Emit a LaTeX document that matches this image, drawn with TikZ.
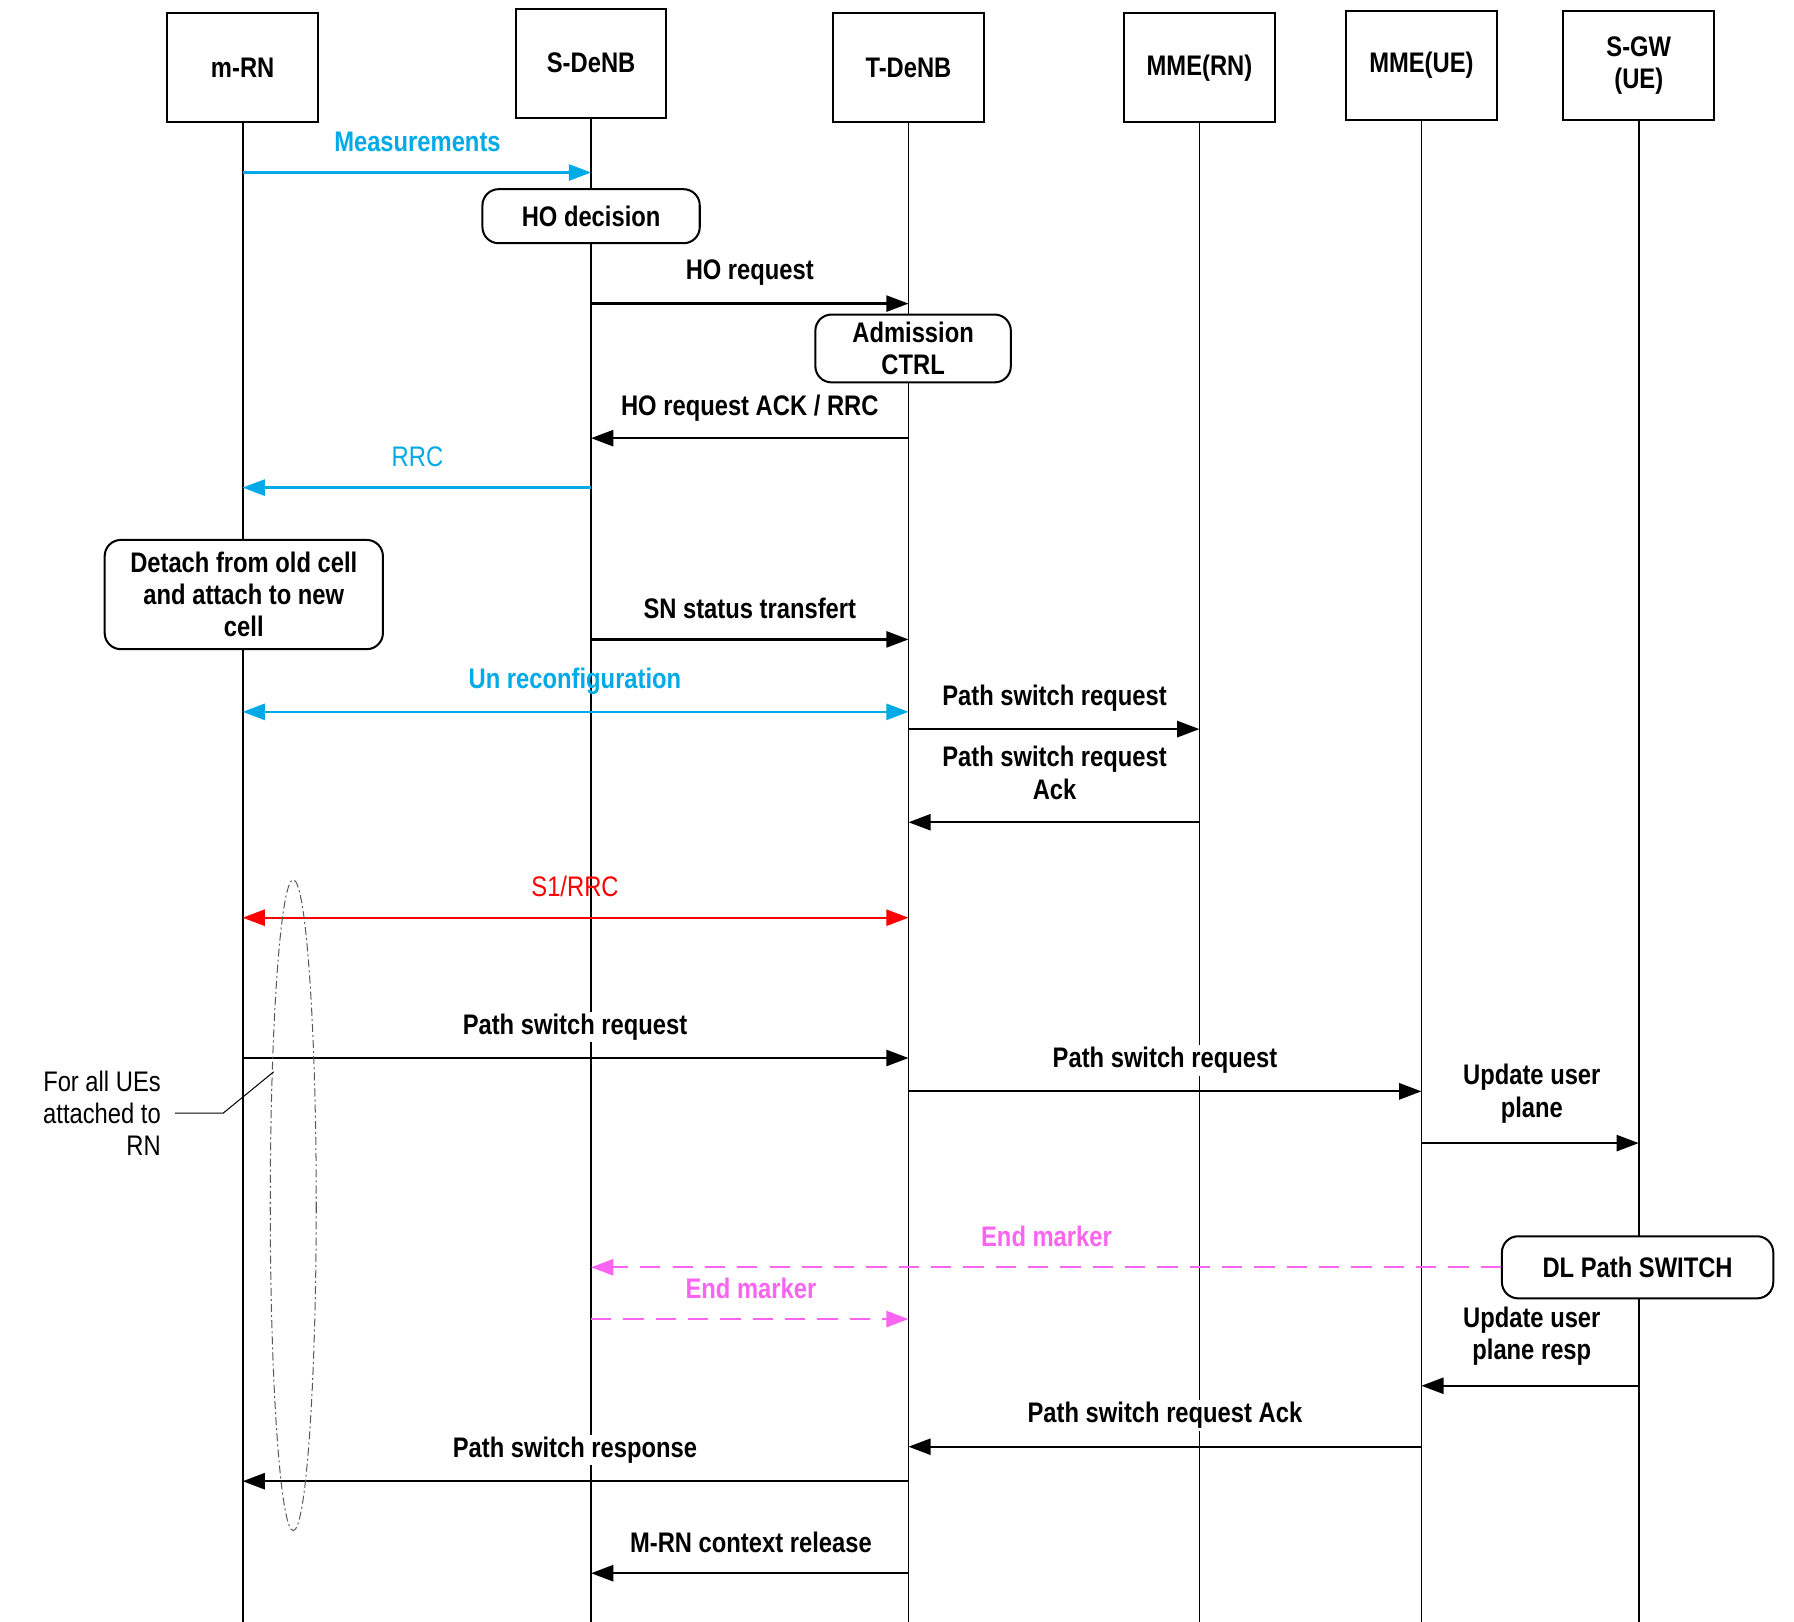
\documentclass[tikz,border=0pt]{standalone}
\usepackage{fontspec}
\setmainfont{Liberation Sans}[FakeStretch=0.84]
\usepackage{tikz}
\usetikzlibrary{arrows.meta,positioning,calc}

\definecolor{msgcyan}{RGB}{0,170,230}
\definecolor{msgpink}{RGB}{250,100,240}

\tikzset{
  ent/.style={draw, line width=1pt, minimum width=2.62cm, minimum height=1.9cm, font=\bfseries\fontsize{14}{16}\selectfont},
  life/.style={line width=0.9pt},
  msg/.style={line width=1.1pt, -{Triangle[length=11pt,width=8pt]}},
  dmsg/.style={line width=1.1pt, {Triangle[length=11pt,width=8pt]}-{Triangle[length=11pt,width=8pt]}},
  lbl/.style={font=\bfseries\fontsize{14}{16}\selectfont, align=center},
  lbln/.style={font=\fontsize{14}{16}\selectfont, align=center},
  act/.style={draw, line width=1pt, rounded corners=8pt, align=center, font=\bfseries\fontsize{14}{16}\selectfont}
}

\begin{document}
\begin{tikzpicture}[x=0.02cm,y=-0.02cm]
\useasboundingbox (0,0) rectangle (1560,1410);

% entities
\node[ent] (mrn)   at (211,59)  {m-RN};
\node[ent] (sdenb) at (514,55)  {S-DeNB};
\node[ent] (tdenb) at (790,59)  {T-DeNB};
\node[ent] (mmern) at (1043,59) {MME(RN)};
\node[ent] (mmeue) at (1236,57) {MME(UE)};
\node[ent, align=center] (sgw) at (1425,57) {S-GW\\(UE)};

% life lines
\foreach \e in {mrn,sdenb,tdenb,mmern,mmeue,sgw}
  \draw[life] (\e.south) -- (\e |- 0,1410);

% measurements and decision
\draw[msg, msgcyan] (mrn |- 0,150) -- (sdenb |- 0,150);
\node[lbl, msgcyan] at (363,123) {Measurements};
\node[act, fill=white, minimum width=3.78cm, minimum height=0.94cm] (hodec) at (514,188) {HO decision};

\draw[msg] (sdenb |- 0,264) -- (tdenb |- 0,264);
\node[lbl] at (652,237) {HO request};
\node[act, fill=white, minimum width=3.4cm, minimum height=1.18cm, inner sep=1pt] (admctrl) at (794,303) {Admission\\CTRL};

\draw[msg] (tdenb |- 0,381) -- (sdenb |- 0,381);
\node[lbl] at (652,355) {HO request ACK / RRC};

\draw[msg, msgcyan] (sdenb |- 0,424) -- (mrn |- 0,424);
\node[lbln, msgcyan] at (363,397) {RRC};

\node[act, fill=white, minimum width=4.84cm, minimum height=1.9cm, inner sep=1pt] (detach) at (212,517) {Detach from old cell\\and attach to new\\cell};

\draw[msg] (sdenb |- 0,556) -- (tdenb |- 0,556);
\node[lbl] at (652,529) {SN status transfert};

\draw[dmsg, msgcyan] (mrn |- 0,619) -- (tdenb |- 0,619);
\node[lbl, msgcyan] at (500,592) {Un reconfiguration};

\draw[msg] (tdenb |- 0,634) -- (mmern |- 0,634);
\node[lbl] at (917,607) {Path switch request};
\draw[msg] (mmern |- 0,715) -- (tdenb |- 0,715);
\node[lbl] at (917,672) {Path switch request\\Ack};

\draw[dmsg, red] (mrn |- 0,798) -- (tdenb |- 0,798);
\node[lbln, red] at (500,771) {S1/RRC};

\draw[msg] (mrn |- 0,920) -- (tdenb |- 0,920);
\node[lbl, fill=white, inner sep=1pt] at (500,893) {Path switch request};
\draw[msg] (tdenb |- 0,949) -- (mmeue |- 0,949);
\node[lbl, fill=white, inner sep=1pt] at (1013,922) {Path switch request};
\draw[msg] (mmeue |- 0,994) -- (sgw |- 0,994);
\node[lbl] at (1332,951) {Update user\\plane};

% end markers
\node[act, fill=white, minimum width=4.72cm, minimum height=1.08cm] (dlpath) at (1424,1102) {DL Path SWITCH};
\draw[msg, msgpink, dashed, dash pattern=on 10pt off 6pt] (dlpath.west) -- (sdenb |- 0,1102);
\node[lbl, msgpink] at (910,1075) {End marker};
\draw[msg, msgpink, dashed, dash pattern=on 10pt off 6pt] (sdenb |- 0,1147) -- (tdenb |- 0,1147);
\node[lbl, msgpink] at (653,1120) {End marker};

\draw[msg] (sgw |- 0,1205) -- (mmeue |- 0,1205);
\node[lbl] at (1332,1162) {Update user\\plane resp};
\draw[msg] (mmeue |- 0,1258) -- (tdenb |- 0,1258);
\node[lbl, fill=white, inner sep=1pt] at (1013,1231) {Path switch request Ack};
\draw[msg] (tdenb |- 0,1288) -- (mrn |- 0,1288);
\node[lbl, fill=white, inner sep=1pt] at (500,1261) {Path switch response};
\draw[msg] (tdenb |- 0,1368) -- (sdenb |- 0,1368);
\node[lbl] at (653,1341) {M-RN context release};

% all UEs group
\draw[gray!70!black, line width=0.5pt, dash pattern=on 4pt off 1.5pt on 1pt off 1.5pt] (255,1048) ellipse (20 and 283);
\node[lbln, align=right, anchor=east] (allue) at (146,968) {For all UEs\\attached to\\RN};
\coordinate (uetip) at (238,932);
\draw[line width=0.5pt] (allue.east) ++(6,0) -- (194,968) -- (uetip);

\end{tikzpicture}
\end{document}
